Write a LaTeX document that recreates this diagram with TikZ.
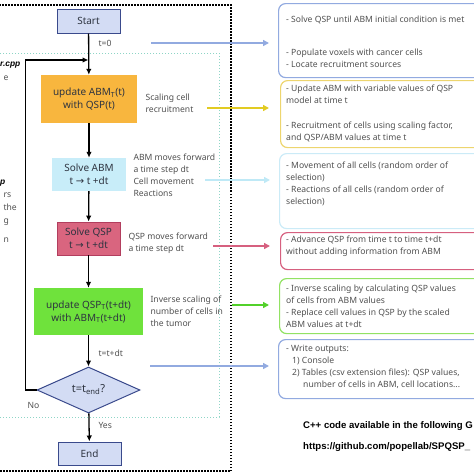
\documentclass[tikz,border=0pt]{standalone}
\usepackage{fontspec}
\setmainfont{Noto Sans}
\newfontfamily\arrowfont{DejaVu Sans}
\newfontfamily\heavyfont{Liberation Sans}
\usetikzlibrary{shapes.geometric, arrows.meta, positioning, calc}

\definecolor{startfill}{HTML}{D3DCF4}
\definecolor{startline}{HTML}{3A4A8C}
\definecolor{abmorange}{HTML}{F8B63E}
\definecolor{abmcyan}{HTML}{C8EDF9}
\definecolor{qsppink}{HTML}{D9657F}
\definecolor{qspline}{HTML}{B23E5E}
\definecolor{qspgreen}{HTML}{6FE23C}
\definecolor{linkblue}{HTML}{92AAE0}
\definecolor{linkyellow}{HTML}{E2CB22}
\definecolor{linkcyan}{HTML}{BFE9F6}
\definecolor{linkpink}{HTML}{D6607F}
\definecolor{linkgreen}{HTML}{52D12A}
\definecolor{boxyellow}{HTML}{EDD56E}
\definecolor{boxcyan}{HTML}{CBEBF7}
\definecolor{boxgreen}{HTML}{92E263}
\definecolor{tealdot}{HTML}{8ED5C6}
\definecolor{notegray}{HTML}{505050}
\definecolor{textdark}{HTML}{2E3440}

\newcommand{\tto}{{\arrowfont\char"2192}}

\begin{document}
\begin{tikzpicture}[x=1pt,y=-1pt,
	flowbox/.style={inner sep=0pt, align=center, text=textdark, font=\fontsize{10}{13}\selectfont},
	flowarrow/.style={-{Latex[length=6pt,width=5.5pt]}, line width=1.3pt},
	sidenote/.style={anchor=west, align=left, text=notegray, font=\fontsize{8.6}{12}\selectfont},
	infobox/.style={draw, rounded corners=7pt, line width=1.2pt, anchor=north west, minimum width=230pt, inner sep=0pt},
	infotext/.style={anchor=north west, align=left, text=notegray, inner sep=0pt, font=\fontsize{8.6}{12}\selectfont},
	codetext/.style={anchor=west, inner sep=0pt, font=\heavyfont\bfseries\fontsize{9.6}{12}\selectfont},
	cuttext/.style={anchor=west, inner sep=0pt, text=black, font=\heavyfont\bfseries\itshape\fontsize{8.4}{12}\selectfont},
	linkarrow/.style={-{Triangle[length=6pt,width=6pt]}, line width=2.6pt, shorten >=9pt}]
		\useasboundingbox (0,0) rectangle (474,474);
		\clip (0,0) rectangle (474,474);
		
		% Frames
		\draw[line width=1.3pt, dash pattern=on 1.5pt off 1.5pt] (-20,5) rectangle (231,471);
		\draw[tealdot, line width=0.9pt, dash pattern=on 1pt off 2pt] (-20,53) rectangle (219,417);
		
		% Flow chart
		\node[flowbox, draw=startline, fill=startfill, line width=1pt, minimum width=63pt, minimum height=24pt] (start) at (88.5,21) {Start};
		\node[flowbox, fill=abmorange, minimum width=96pt, minimum height=48pt] (upabm) at (89,99) {update ABM\textsubscript{T}(t)\\with QSP(t)};
		\node[flowbox, fill=abmcyan, minimum width=74pt, minimum height=33pt] (solveabm) at (89,174.5) {Solve ABM\\t \tto{} t +dt};
		\node[flowbox, draw=qspline, fill=qsppink, line width=0.8pt, minimum width=63pt, minimum height=33pt] (solveqsp) at (88.5,238.5) {Solve QSP\\t \tto{} t +dt};
		\node[flowbox, fill=qspgreen, minimum width=109pt, minimum height=47pt] (upqsp) at (88.5,311.5) {update QSP\textsubscript{T}(t+dt)\\with ABM\textsubscript{T}(t+dt)};
		\node[flowbox, diamond, aspect=2.2, draw=startline, fill=startfill, line width=1pt, minimum width=103pt, minimum height=46pt, font=\fontsize{11}{13}\selectfont] (decide) at (88.5,390) {t=t\textsubscript{end}?};
		\node[flowbox, draw=startline, fill=startfill, line width=1pt, minimum width=63pt, minimum height=23pt] (finish) at (89.5,453.5) {End};
		\coordinate (join) at (88.5,60);
		
		\draw[flowarrow] (start) -- (upabm);
		\draw[flowarrow] (upabm) -- (solveabm);
		\draw[flowarrow] (solveabm) -- (solveqsp);
		\draw[flowarrow] (solveqsp) -- (upqsp);
		\draw[flowarrow] (upqsp) -- (decide);
		\draw[flowarrow] (decide) -- (finish);
		\draw[flowarrow] (decide.west) -- ++(-11,0) |- (join);
		
		\node[sidenote] (tzero) at (95,43) {t=0};
		\node[sidenote] (tstep) at (95,353) {t=t+dt};
		\node[sidenote] (yes) at (95,425) {Yes};
		\node[sidenote] (no) at (24,405) {No};
		
		% Notes beside the steps
		\node[sidenote] (noteA) at (142,103.5) {Scaling cell\\recruitment};
		\node[sidenote] (noteB) at (130,175.5) {ABM moves forward\\a time step dt\\Cell movement\\Reactions};
		\node[sidenote] (noteC) at (125,243) {QSP moves forward\\a time step dt};
		\node[sidenote] (noteD) at (147,311) {Inverse scaling of\\number of cells in\\the tumor};
		
		% Cut off text on the left
		\node[cuttext] (cppname) at (0,65) {r.cpp};
		\node[sidenote] (cutA) at (0,78) {e};
		\node[cuttext] (cutB) at (0,183) {p};
		\node[sidenote] (cutC) at (0,195) {rs};
		\node[sidenote] (cutD) at (0,207) {the};
		\node[sidenote] (cutE) at (0,222) {g};
		\node[sidenote] (cutF) at (0,240) {n};
		
		% Boxes on the right
		\node[infobox, draw=linkblue, minimum height=74pt] (infoA) at (278,3) {};
		\node[infobox, draw=boxyellow, minimum height=67pt] (infoB) at (280,80) {};
		\node[infobox, draw=boxcyan, minimum height=75pt] (infoC) at (279,153) {};
		\node[infobox, draw=linkpink, minimum height=37pt] (infoD) at (280,232) {};
		\node[infobox, draw=boxgreen, minimum height=55pt] (infoE) at (279,278) {};
		\node[infobox, draw=linkblue, minimum height=59pt] (infoF) at (278,339) {};
		
		\node[infotext] (textA) at (286,16) {- Solve QSP until ABM initial condition is met\\[21pt]- Populate voxels with cancer cells\\- Locate recruitment sources};
		\node[infotext] (textB) at (286,85) {- Update ABM with variable values of QSP\\model at time t\\[13pt]- Recruitment of cells using scaling factor,\\and QSP/ABM values at time t};
		\node[infotext] (textC) at (286,162) {- Movement of all cells (random order of\\selection)\\- Reactions of all cells (random order of\\selection)};
		\node[infotext] (textD) at (286,236) {- Advance QSP from time t to time t+dt\\without adding information from ABM};
		\node[infotext] (textE) at (286,285) {- Inverse scaling by calculating QSP values\\of cells from ABM values\\- Replace cell values in QSP by the scaled\\ABM values at t+dt};
		\node[infotext] (textF) at (286,345) {- Write outputs:\\\hspace*{6pt}1) Console\\\hspace*{6pt}2) Tables (csv extension files): QSP values,\\\hspace*{17pt}number of cells in ABM, cell locations...};
		
		% Links to the boxes
		\coordinate (linkA) at (151,43);
		\coordinate (linkB) at (207,108);
		\coordinate (linkC) at (205,180);
		\coordinate (linkD) at (213,246);
		\coordinate (linkE) at (232,305);
		\coordinate (linkF) at (150,366);
		\draw[linkarrow, linkblue] (linkA) -- (linkA -| infoA.west);
		\draw[linkarrow, linkyellow] (linkB) -- (linkB -| infoA.west);
		\draw[linkarrow, linkcyan] (linkC) -- (linkC -| infoC.west);
		\draw[linkarrow, linkpink] (linkD) -- (linkD -| infoC.west);
		\draw[linkarrow, linkgreen] (linkE) -- (linkE -| infoA.west);
		\draw[linkarrow, linkblue] (linkF) -- (linkF -| infoA.west);
		
		% Code note
		\node[codetext] (codeA) at (303,426) {C++ code available in the following G};
		\node[codetext] (codeB) at (303,447) {https://github.com/popellab/SPQSP\_};
	\end{tikzpicture}
\end{document}
